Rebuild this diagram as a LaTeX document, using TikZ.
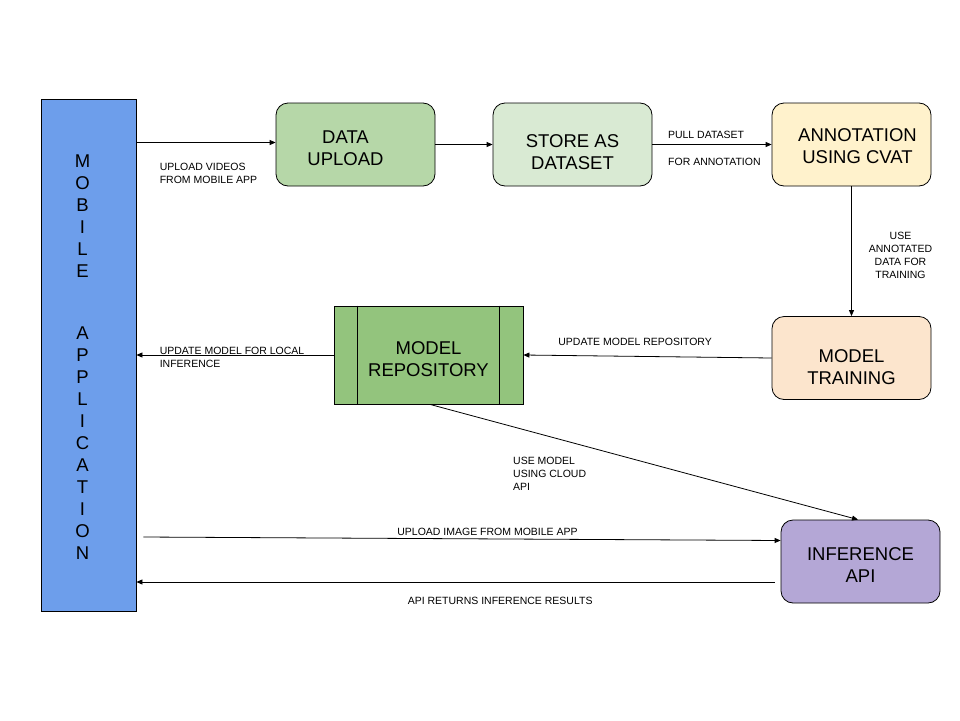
\documentclass[tikz,border=0pt]{standalone}
\usepackage{fontspec}
\setmainfont{Liberation Sans}
\usetikzlibrary{arrows.meta}

\definecolor{appblau}{HTML}{6D9EEB}
\definecolor{gruen}{HTML}{B6D7A8}
\definecolor{hellgruen}{HTML}{D9EAD3}
\definecolor{gelb}{HTML}{FFF2CC}
\definecolor{orange}{HTML}{FCE5CD}
\definecolor{dunkelgruen}{HTML}{93C47D}
\definecolor{lila}{HTML}{B4A7D6}

\begin{document}
\begin{tikzpicture}[x=1pt, y=-1pt,
        every node/.style={font=\fontsize{10.5}{13}\selectfont},
        kasten/.style={draw=black, line width=0.8pt, rounded corners=12pt,
                       minimum width=159pt, minimum height=83pt},
        inhalt/.style={align=center, inner sep=0pt,
                       font=\fontsize{18.5}{22}\selectfont},
        kante/.style={draw=black, line width=0.8pt,
                      -{Triangle[length=6pt, width=5pt]}},
        marke/.style={inner sep=1pt, align=center}
    ]
        \useasboundingbox (0,0) rectangle (960,720);

        \node[draw=black, line width=0.8pt, fill=appblau, minimum width=95pt,
              minimum height=512pt,
              label={[inhalt, xshift=-6pt, yshift=-2pt]center:M\\O\\B\\I\\L\\E\\[40pt]A\\P\\P\\L\\I\\C\\A\\T\\I\\O\\N}]
            (app) at (88.5,355) {};

        \node[kasten, fill=gruen,
              label={[inhalt, xshift=-10pt, yshift=-4pt]center:DATA\\UPLOAD}]
            (upload) at (355.5,144.5) {};
        \node[kasten, fill=hellgruen,
              label={[inhalt, yshift=-8pt]center:STORE AS\\DATASET}]
            (dataset) at (572.5,144.5) {};
        \node[kasten, fill=gelb,
              label={[inhalt, xshift=6pt, yshift=-1.5pt]center:ANNOTATION\\USING CVAT}]
            (annot) at (851.5,144.5) {};
        \node[kasten, fill=orange,
              label={[inhalt, yshift=-9pt]center:MODEL\\TRAINING}]
            (training) at (851.5,358) {};
        \node[kasten, fill=lila,
              label={[inhalt, yshift=-3.5pt]center:INFERENCE\\API}]
            (infer) at (860.5,561.5) {};
        \node[kasten, fill=dunkelgruen, rounded corners=0pt, minimum width=189pt,
              minimum height=98pt,
              label={[inhalt, yshift=-4pt]center:MODEL\\REPOSITORY}]
            (repo) at (428.5,355) {};
        \draw[line width=0.8pt] ([xshift=24pt]repo.north west) -- ([xshift=24pt]repo.south west);
        \draw[line width=0.8pt] ([xshift=-24pt]repo.north east) -- ([xshift=-24pt]repo.south east);

        \draw[kante] ([yshift=2pt]app.east |- upload.west) -- ([yshift=2pt]upload.west)
            node[marke, pos=0, anchor=north west, xshift=22pt, yshift=-19pt, align=left]
            {UPLOAD VIDEOS\\FROM MOBILE APP};
        \draw[kante] (upload.east) -- (dataset.west);
        \draw[kante] (dataset.east) -- (annot.west)
            node[marke, pos=0.45, above=4pt] {PULL DATASET}
            node[marke, pos=0.52, below=12pt] {FOR ANNOTATION};
        \draw[kante] (annot.south) -- (training.north)
            node[marke, pos=0.53, right=16pt] {USE\\ANNOTATED\\DATA FOR\\TRAINING};
        \draw[kante] (training.west) -- (repo.east)
            node[marke, pos=0.55, above=9pt] {UPDATE MODEL REPOSITORY};
        \draw[kante] (repo.west) -- (app.east)
            node[marke, pos=1, anchor=west, xshift=22pt, yshift=-2pt, align=left]
            {UPDATE MODEL FOR LOCAL\\INFERENCE};
        \draw[kante] ([xshift=1.5pt]repo.south) -- ([xshift=-2.5pt]infer.north);
        \node[marke, anchor=west, align=left] (cloud) at (512,474)
            {USE MODEL\\USING CLOUD\\API};
        \draw[kante] ([xshift=7pt, yshift=-182pt]app.east) -- ([yshift=21pt]infer.west)
            node[marke, pos=0.54, above=2pt] {UPLOAD IMAGE FROM MOBILE APP};
        \draw[kante] ([xshift=-6pt, yshift=-20.5pt]infer.west) -- ([yshift=-227pt]app.east)
            node[marke, pos=0.43, below=14pt] {API RETURNS INFERENCE RESULTS};
    \end{tikzpicture}
\end{document}
